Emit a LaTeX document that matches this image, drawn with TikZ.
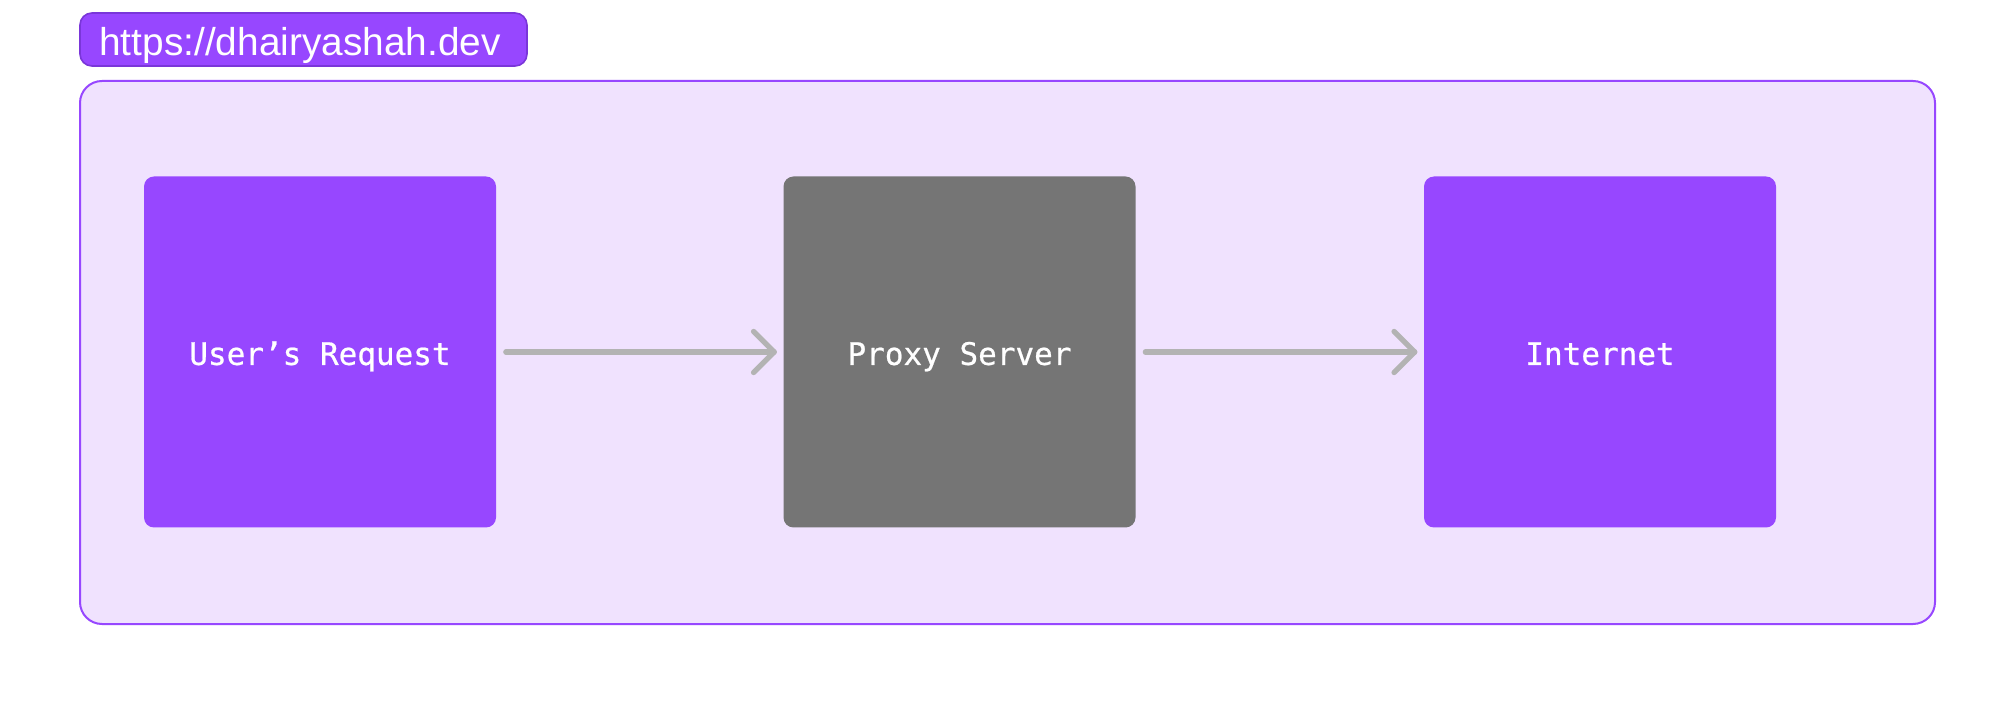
\documentclass[tikz,border=0pt]{standalone}
\usepackage{fontspec}
\setmainfont{Liberation Sans}
\newfontfamily\boxmono[FakeBold=0.7]{DejaVu Sans Mono}
\usetikzlibrary{calc}
\definecolor{figpurple}{HTML}{9747FF}
\definecolor{figdark}{HTML}{7A36D9}
\definecolor{figlight}{HTML}{F0E2FE}
\definecolor{figgray}{HTML}{757575}
\definecolor{arrgray}{HTML}{B3B3B3}
\tikzset{
  stepbox/.style={rounded corners=5pt, minimum width=176pt, minimum height=175.5pt,
    text=white, font=\boxmono\fontsize{15.5}{18}\selectfont, inner sep=0pt,
    text height=12.9pt, text depth=0pt},
  conn/.style={draw=arrgray, line width=2.7pt, line cap=round, line join=round,
    shorten <=4.75pt, shorten >=4.5pt},
  connhead/.style={draw=arrgray, line width=2.7pt, line cap=round, line join=round}
}
\begin{document}
\begin{tikzpicture}[x=0.5pt,y=-0.5pt]
\useasboundingbox (0,0) rectangle (2016,704);
\fill[white] (0,0) rectangle (2016,704);
% container
\draw[figpurple, fill=figlight, line width=1pt, rounded corners=11pt] (80,81) rectangle (1935,624);
% label
\node[draw=figdark, fill=figpurple, line width=0.8pt, rounded corners=6pt,
  minimum width=223.5pt, minimum height=26.5pt, inner sep=0pt]
  (lbl) at (303.5,39.5) {};
\node[anchor=base west, text=white, font=\fontsize{19.4}{22}\selectfont, inner sep=0pt]
  (lbltext) at (99,56) {https://dhairyashah.dev};
% boxes
\node[stepbox, fill=figpurple] (req) at (320,352) {User’s Request};
\node[stepbox, fill=figgray] (proxy) at (959.5,352) {Proxy Server};
\node[stepbox, fill=figpurple] (net) at (1600,352) {Internet};
% connectors
\draw[conn] (req) -- (proxy);
\draw[connhead] ($(proxy.west)+(-29.5,-20.5)$) -- ($(proxy.west)+(-9,0)$) -- ($(proxy.west)+(-29.5,20.5)$);
\draw[conn] (proxy) -- (net);
\draw[connhead] ($(net.west)+(-29.5,-20.5)$) -- ($(net.west)+(-9,0)$) -- ($(net.west)+(-29.5,20.5)$);
\end{tikzpicture}
\end{document}
